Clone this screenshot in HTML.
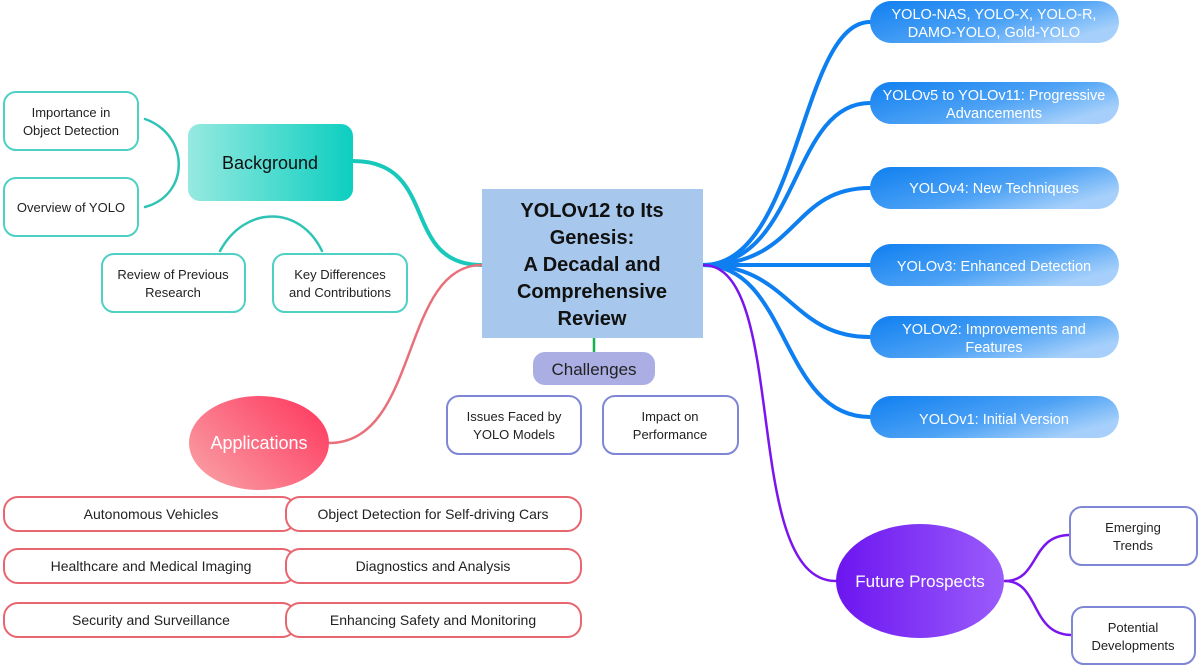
<!DOCTYPE html>
<html><head><meta charset="utf-8"><style>
html,body{margin:0;padding:0;background:#fff;}
svg{display:block;font-family:"Liberation Sans",sans-serif;}
</style></head><body>
<svg width="1200" height="668" viewBox="0 0 1200 668" xmlns="http://www.w3.org/2000/svg">
<defs>
<linearGradient id="gT" x1="0" x2="1"><stop offset="0" stop-color="#96e9e0"/><stop offset="1" stop-color="#0ccfc0"/></linearGradient>
<linearGradient id="gB" x1="0" y1="0" x2="1" y2="0.6"><stop offset="0" stop-color="#0f7ff0"/><stop offset="0.6" stop-color="#4da2f5"/><stop offset="1" stop-color="#a6d0fb"/></linearGradient>
<linearGradient id="gR" x1="1" y1="0.2" x2="0" y2="0.9"><stop offset="0" stop-color="#fe3d62"/><stop offset="1" stop-color="#f9a1a6"/></linearGradient>
<linearGradient id="gP" x1="0" x2="1"><stop offset="0" stop-color="#6c15f0"/><stop offset="1" stop-color="#9a5cfb"/></linearGradient>
</defs>
<g fill="none" stroke-linecap="round">
<!-- blue connectors -->
<g stroke="#0e7ff0" stroke-width="4">
<path d="M703,265 C800,265 800,22 870,22"/>
<path d="M703,265 C800,265 790,103 870,103"/>
<path d="M703,265 C800,265 790,188 870,188"/>
<path d="M703,265 L870,265"/>
<path d="M703,265 C790,265 790,337 870,337"/>
<path d="M703,265 C790,265 780,417 870,417"/>
</g>
<path d="M703,265 C790,265 740,581 836,581" stroke="#7b15ef" stroke-width="2.5"/>
<path d="M1005,581 C1040,581 1030,535 1070,535" stroke="#7b15ef" stroke-width="2.5"/>
<path d="M1005,581 C1040,581 1030,635 1072,635" stroke="#7b15ef" stroke-width="2.5"/>
<path d="M353,161 C440,161 400,265 482,265" stroke="#18c9bb" stroke-width="4"/>
<path d="M329,443 C420,443 400,265 482,265" stroke="#e9707a" stroke-width="2.5"/>
<path d="M594,338 L594,352" stroke="#16b050" stroke-width="2.5"/>
<path d="M145,119 C190,135 190,195 145,207" stroke="#2fc3b5" stroke-width="2.5"/>
<path d="M220,251 C245,205 300,205 322,251" stroke="#2fc3b5" stroke-width="2.5"/>
</g>
<!-- central -->
<rect x="482" y="189" width="221" height="149" fill="#a7c8ec"/>
<g font-weight="bold" font-size="20" text-anchor="middle" fill="#111">
<text x="592" y="217">YOLOv12 to Its</text>
<text x="592" y="244">Genesis:</text>
<text x="592" y="271">A Decadal and</text>
<text x="592" y="298">Comprehensive</text>
<text x="592" y="325">Review</text>
</g>
<!-- blue nodes -->
<g fill="url(#gB)">
<rect x="870" y="1" width="249" height="42" rx="21"/>
<rect x="870" y="82" width="249" height="42" rx="21"/>
<rect x="870" y="167" width="249" height="42" rx="21"/>
<rect x="870" y="244" width="249" height="42" rx="21"/>
<rect x="870" y="316" width="249" height="42" rx="21"/>
<rect x="870" y="396" width="249" height="42" rx="21"/>
</g>
<g fill="#fff" font-size="14.5" text-anchor="middle">
<text x="994" y="19">YOLO-NAS, YOLO-X, YOLO-R,</text>
<text x="994" y="37">DAMO-YOLO, Gold-YOLO</text>
<text x="994" y="100">YOLOv5 to YOLOv11: Progressive</text>
<text x="994" y="118">Advancements</text>
<text x="994" y="193">YOLOv4: New Techniques</text>
<text x="994" y="271">YOLOv3: Enhanced Detection</text>
<text x="994" y="334">YOLOv2: Improvements and</text>
<text x="994" y="352">Features</text>
<text x="994" y="424">YOLOv1: Initial Version</text>
</g>
<!-- background -->
<rect x="188" y="124" width="165" height="77" rx="12" fill="url(#gT)"/>
<text x="270" y="169" font-size="18" text-anchor="middle" fill="#111">Background</text>
<g fill="#fff" stroke="#4fd0c4" stroke-width="2">
<rect x="4" y="92" width="134" height="58" rx="12"/>
<rect x="4" y="178" width="134" height="58" rx="12"/>
<rect x="102" y="254" width="143" height="58" rx="12"/>
<rect x="273" y="254" width="134" height="58" rx="12"/>
</g>
<g font-size="13" text-anchor="middle" fill="#222">
<text x="71" y="117">Importance in</text>
<text x="71" y="135">Object Detection</text>
<text x="71" y="212">Overview of YOLO</text>
<text x="173" y="279">Review of Previous</text>
<text x="173" y="297">Research</text>
<text x="340" y="279">Key Differences</text>
<text x="340" y="297">and Contributions</text>
</g>
<!-- challenges -->
<rect x="533" y="352" width="122" height="33" rx="12" fill="#aaaee2"/>
<text x="594" y="375" font-size="17" text-anchor="middle" fill="#222">Challenges</text>
<g fill="#fff" stroke="#7f86d6" stroke-width="2">
<rect x="447" y="396" width="134" height="58" rx="12"/>
<rect x="603" y="396" width="135" height="58" rx="12"/>
</g>
<g font-size="13" text-anchor="middle" fill="#222">
<text x="514" y="421">Issues Faced by</text>
<text x="514" y="439">YOLO Models</text>
<text x="670" y="421">Impact on</text>
<text x="670" y="439">Performance</text>
</g>
<!-- applications -->
<ellipse cx="259" cy="443" rx="70" ry="47" fill="url(#gR)"/>
<text x="259" y="449" font-size="18" text-anchor="middle" fill="#fff">Applications</text>
<g fill="#fff" stroke="#e76670" stroke-width="2">
<rect x="4" y="497" width="292" height="34" rx="14"/>
<rect x="286" y="497" width="295" height="34" rx="14"/>
<rect x="4" y="549" width="292" height="34" rx="14"/>
<rect x="286" y="549" width="295" height="34" rx="14"/>
<rect x="4" y="603" width="292" height="34" rx="14"/>
<rect x="286" y="603" width="295" height="34" rx="14"/>
</g>
<g font-size="14" text-anchor="middle" fill="#222">
<text x="151" y="519">Autonomous Vehicles</text>
<text x="433" y="519">Object Detection for Self-driving Cars</text>
<text x="151" y="571">Healthcare and Medical Imaging</text>
<text x="433" y="571">Diagnostics and Analysis</text>
<text x="151" y="625">Security and Surveillance</text>
<text x="433" y="625">Enhancing Safety and Monitoring</text>
</g>
<!-- future -->
<ellipse cx="920" cy="581" rx="84" ry="57" fill="url(#gP)"/>
<text x="920" y="587" font-size="17" text-anchor="middle" fill="#fff">Future Prospects</text>
<g fill="#fff" stroke="#7f86d6" stroke-width="2">
<rect x="1070" y="507" width="127" height="58" rx="12"/>
<rect x="1072" y="607" width="123" height="57" rx="12"/>
</g>
<g font-size="13" text-anchor="middle" fill="#222">
<text x="1133" y="532">Emerging</text>
<text x="1133" y="550">Trends</text>
<text x="1133" y="632">Potential</text>
<text x="1133" y="650">Developments</text>
</g>
</svg>
</body></html>
